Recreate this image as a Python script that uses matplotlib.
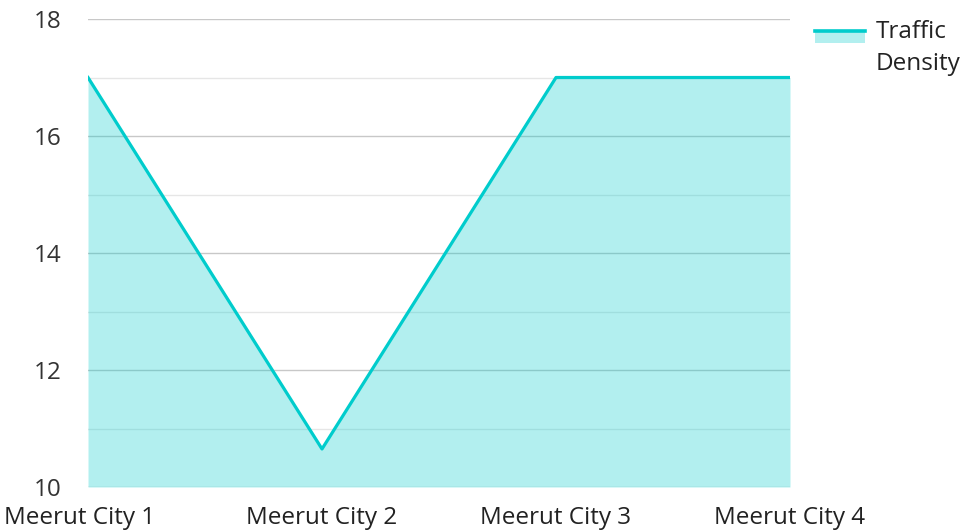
import matplotlib.pyplot as plt
import matplotlib.transforms as mtransforms
from matplotlib.patches import Rectangle
from matplotlib.lines import Line2D

cities = ["Meerut City 1", "Meerut City 2", "Meerut City 3", "Meerut City 4"]
density = [17, 10.65, 17, 17]
y_ticks = [10, 12, 14, 16, 18]
y_minor = [11, 13, 15, 17]
series_name = "Traffic\nDensity"

plt.rcParams['font.family'] = ['Open Sans', 'DejaVu Sans']

W, H = 964, 531
fig = plt.figure(figsize=(W / 100, H / 100), dpi=100)
ax = fig.add_axes([88 / W, 44 / H, 702 / W, 468 / H])

x = list(range(len(cities)))
line_color = "#00cccc"
fs = 17.5

# grid first, fill over it (translucent)
for v in y_minor:
    ax.axhline(v, color="#e6e6e6", lw=1, zorder=1)
for v in y_ticks:
    ax.axhline(v, color="#c8c8c8", lw=1, zorder=1)

ax.fill_between(x, density, 10, color=line_color, alpha=0.3, lw=0, zorder=2)
ax.plot(x, density, color=line_color, lw=2.3, zorder=3)

ax.set_xlim(0, len(cities) - 1)
ax.set_ylim(10, 18)
ax.set_xticks(x)
ax.set_xticklabels(cities, fontsize=fs, color="#222222")
ax.set_yticks(y_ticks)
ax.set_yticklabels([str(v) for v in y_ticks], fontsize=fs, color="#333333")
ax.tick_params(length=0)
ax.tick_params(axis='x', pad=14)
ax.tick_params(axis='y', pad=19)
for s in ax.spines.values():
    s.set_visible(False)

# first x label is pushed right so it stays inside the canvas
first = ax.get_xticklabels()[0]
first.set_ha('left')
first.set_transform(first.get_transform() +
                    mtransforms.ScaledTranslation(-0.84, 0, fig.dpi_scale_trans))

# legend drawn by hand: swatch with line on top, two-line label
fig.add_artist(Rectangle((815 / W, 1 - 43 / H), 50 / W, 12 / H,
                         transform=fig.transFigure, color=line_color,
                         alpha=0.3, lw=0))
fig.add_artist(Line2D([815 / W, 865 / W], [1 - 31 / H, 1 - 31 / H],
                      transform=fig.transFigure, color=line_color, lw=2.6))
fig.text(876 / W, 1 - 48 / H, series_name, fontsize=fs, color="#222222",
         ha='left', va='center', linespacing=1.45)

fig.savefig("out.png", dpi=100)
